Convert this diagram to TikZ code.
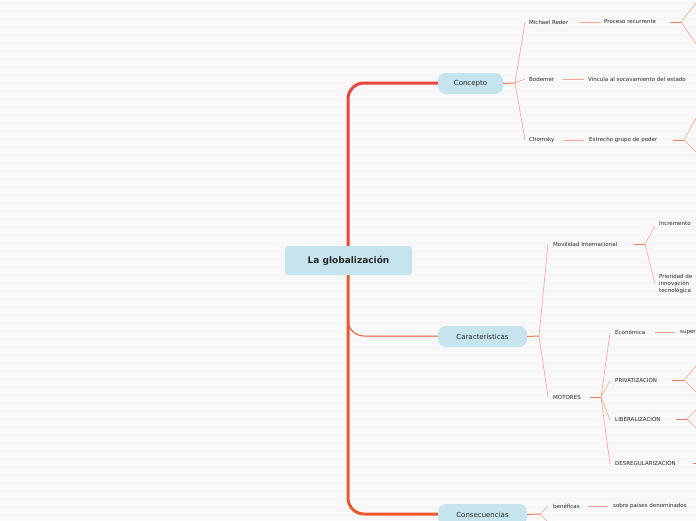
\documentclass[tikz,border=0pt]{standalone}
\usepackage{fontspec}
\setmainfont{DejaVu Sans}
\definecolor{bg}{HTML}{F7F7F7}
\definecolor{stripe}{HTML}{FBFBFB}
\definecolor{topic}{HTML}{C5E4EE}
\definecolor{trunkA}{HTML}{E8453C}
\definecolor{trunkB}{HTML}{EA5A2C}
\definecolor{thin}{HTML}{F6A38F}
\definecolor{mid}{HTML}{F07A5A}
\begin{document}
\begin{tikzpicture}[x=1pt,y=-1pt,
  central/.style={fill=topic,rounded corners=3pt,minimum width=127pt,minimum height=29pt,font=\bfseries\fontsize{9}{10}\selectfont,text=black!85},
  topicbox/.style={fill=topic,rounded corners=8pt,minimum height=21pt,font=\fontsize{7}{8}\selectfont,text=black!85},
  leaf/.style={anchor=west,inner sep=0pt,font=\fontsize{5.5}{7}\selectfont,text=black!85,align=left},
  tl/.style={draw=thin,line width=0.6pt},
  ml/.style={draw=mid,line width=1pt}]
\clip (0,0) rectangle (696,520);
\fill[bg] (0,0) rectangle (696,520);
\foreach \y in {0,8,...,520} \draw[stripe,line width=1pt] (0,\y) -- (696,\y);
% trunk
\draw[trunkA,line width=3pt,rounded corners=16pt] (348,246) |- (438,83);
\draw[trunkB,line width=3pt,rounded corners=16pt] (348,275) |- (438,514);
\draw[trunkB,line width=1pt,rounded corners=16pt] (348,300) |- (438,336);
\node[central] (c) at (348.5,260.5) {La globalización};
\node[topicbox,minimum width=65pt] (con) at (470.5,83.5) {Concepto};
\node[topicbox,minimum width=89pt] (car) at (482.5,336.5) {Características};
\node[topicbox,minimum width=89pt] (cons) at (482.5,514.5) {Consecuencias};
% Concepto
\coordinate (f1) at (515,83);
\draw[ml] (con.east) -- (f1);
\node[leaf] (mr) at (529,22) {Michael Reder};
\node[leaf] (bo) at (529,79) {Bodemer};
\node[leaf] (ch) at (529,140) {Chomsky};
\draw[tl] (f1) -- (525,22) (f1) -- (525,79) (f1) -- (525,140);
\node[leaf] (pr) at (604,22) {Proceso recurrente};
\draw[tl] (580,22) -- (600,22);
\coordinate (f2) at (681,22);
\draw[ml] (670,22) -- (f2);
\draw[tl] (f2) -- (696,3) (f2) -- (696,44);
\node[leaf] (vi) at (588,79) {Vincula al socavamiento del estado};
\draw[tl] (563,79) -- (584,79);
\node[leaf] (es) at (589,140) {Estrecho grupo de poder};
\draw[tl] (564,140) -- (584,140);
\coordinate (f3) at (684,140);
\draw[ml] (673,140) -- (f3);
\draw[tl] (f3) -- (696,118) (f3) -- (696,152);
% Características
\coordinate (f4) at (539,336);
\draw[ml] (car.east) -- (f4);
\node[leaf] (mi) at (553,244) {Movilidad Internacional};
\node[leaf] (mo) at (553,397) {MOTORES};
\draw[tl] (f4) -- (548,244) (f4) -- (548,397);
\coordinate (f5) at (645,244);
\draw[ml] (634,244) -- (f5);
\draw[tl] (f5) -- (655,226) (f5) -- (655,284);
\node[leaf] (in) at (659,224) {Incremento};
\node[leaf] (pri) at (659,284) {Prioridad de\\innovación\\tecnológica};
\coordinate (f6) at (601,397);
\draw[ml] (590,397) -- (f6);
\node[leaf] (ec) at (615,332) {Económica};
\node[leaf] (pv) at (615,380) {PRIVATIZACIÓN};
\node[leaf] (li) at (615,419) {LIBERALIZACIÓN};
\node[leaf] (de) at (615,463) {DESREGULARIZACIÓN};
\draw[tl] (f6) -- (610,333) (f6) -- (610,381) (f6) -- (610,420) (f6) -- (610,464);
\draw[tl] (655,332) -- (675,332);
\node[leaf] at (680,332) {superación};
\coordinate (f7) at (684,380);
\draw[ml] (672,380) -- (f7);
\draw[tl] (f7) -- (696,366) (f7) -- (696,392);
\coordinate (f8) at (687,419);
\draw[ml] (676,419) -- (f8);
\draw[tl] (f8) -- (696,410) (f8) -- (696,428);
\draw[ml] (693,463) -- (696,463);
% Consecuencias
\coordinate (f9) at (540,514);
\draw[ml] (cons.east) -- (f9);
\node[leaf] (be) at (553,506) {benéficas};
\draw[tl] (f9) -- (548,506) (f9) -- (550,524);
\draw[tl] (588,506) -- (608,506);
\node[leaf] at (613,506) {sobre países denominados};
\end{tikzpicture}
\end{document}
